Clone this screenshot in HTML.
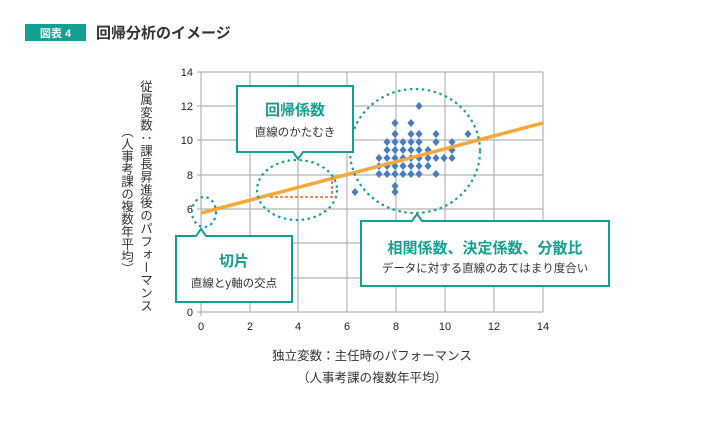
<!DOCTYPE html>
<html><head><meta charset="utf-8"><style>
body{margin:0;background:#fff;}
svg text{font-family:"Liberation Sans","Noto Sans CJK JP",sans-serif;}
</style></head><body>
<svg width="717" height="421" viewBox="0 0 717 421" xmlns="http://www.w3.org/2000/svg" xmlns:xlink="http://www.w3.org/1999/xlink">
<defs><path id="d" d="M0 -4L3.6 0L0 4L-3.6 0Z" fill="#4a7cc0"/></defs>
<rect x="0" y="0" width="717" height="421" fill="#fff"/>
<rect x="25" y="24" width="61" height="17" fill="#14a090"/>
<text x="55.5" y="37" font-size="11" font-weight="bold" fill="#fff" text-anchor="middle">図表 4</text>
<text x="96" y="38" font-size="15" font-weight="bold" fill="#333">回帰分析のイメージ</text>
<g stroke="#b4b4b4" stroke-width="1.2">
<line x1="250" y1="72" x2="250" y2="312"/><line x1="298" y1="72" x2="298" y2="312"/><line x1="347" y1="72" x2="347" y2="312"/><line x1="396" y1="72" x2="396" y2="312"/><line x1="445" y1="72" x2="445" y2="312"/><line x1="494" y1="72" x2="494" y2="312"/><line x1="543" y1="72" x2="543" y2="312"/>
<line x1="201" y1="72" x2="543" y2="72"/><line x1="201" y1="106" x2="543" y2="106"/><line x1="201" y1="140" x2="543" y2="140"/><line x1="201" y1="175" x2="543" y2="175"/><line x1="201" y1="209" x2="543" y2="209"/><line x1="201" y1="243" x2="543" y2="243"/><line x1="201" y1="278" x2="543" y2="278"/><line x1="201" y1="312" x2="543" y2="312"/>
<line x1="201" y1="72" x2="201" y2="316"/>
<line x1="197" y1="72" x2="201" y2="72"/><line x1="197" y1="106" x2="201" y2="106"/><line x1="197" y1="140" x2="201" y2="140"/><line x1="197" y1="175" x2="201" y2="175"/><line x1="197" y1="209" x2="201" y2="209"/><line x1="197" y1="243" x2="201" y2="243"/><line x1="197" y1="278" x2="201" y2="278"/><line x1="197" y1="312" x2="201" y2="312"/>
</g>
<g font-size="11" fill="#222" text-anchor="end">
<text x="193" y="76">14</text><text x="193" y="110">12</text><text x="193" y="144">10</text><text x="193" y="179">8</text><text x="193" y="213">6</text><text x="193" y="247">4</text><text x="193" y="282">2</text><text x="193" y="316">0</text>
</g>
<g font-size="11" fill="#222" text-anchor="middle">
<text x="201" y="330">0</text><text x="250" y="330">2</text><text x="298" y="330">4</text><text x="347" y="330">6</text><text x="396" y="330">8</text><text x="445" y="330">10</text><text x="494" y="330">12</text><text x="543" y="330">14</text>
</g>
<g>
<use xlink:href="#d" x="419" y="106"/>
<use xlink:href="#d" x="395" y="123"/><use xlink:href="#d" x="411" y="123"/>
<use xlink:href="#d" x="395" y="134"/><use xlink:href="#d" x="411" y="134"/><use xlink:href="#d" x="419" y="134"/><use xlink:href="#d" x="436" y="134"/><use xlink:href="#d" x="468" y="134"/>
<use xlink:href="#d" x="387" y="142"/><use xlink:href="#d" x="395" y="142"/><use xlink:href="#d" x="403" y="142"/><use xlink:href="#d" x="411" y="142"/><use xlink:href="#d" x="419" y="142"/><use xlink:href="#d" x="436" y="142"/><use xlink:href="#d" x="452" y="142"/>
<use xlink:href="#d" x="387" y="150"/><use xlink:href="#d" x="395" y="150"/><use xlink:href="#d" x="403" y="150"/><use xlink:href="#d" x="411" y="150"/><use xlink:href="#d" x="419" y="150"/><use xlink:href="#d" x="428" y="150"/><use xlink:href="#d" x="452" y="150"/>
<use xlink:href="#d" x="379" y="158"/><use xlink:href="#d" x="387" y="158"/><use xlink:href="#d" x="395" y="158"/><use xlink:href="#d" x="403" y="158"/><use xlink:href="#d" x="411" y="158"/><use xlink:href="#d" x="419" y="158"/><use xlink:href="#d" x="428" y="158"/><use xlink:href="#d" x="436" y="158"/><use xlink:href="#d" x="444" y="158"/><use xlink:href="#d" x="452" y="158"/>
<use xlink:href="#d" x="379" y="166"/><use xlink:href="#d" x="387" y="166"/><use xlink:href="#d" x="395" y="166"/><use xlink:href="#d" x="403" y="166"/><use xlink:href="#d" x="411" y="166"/><use xlink:href="#d" x="419" y="166"/><use xlink:href="#d" x="428" y="166"/>
<use xlink:href="#d" x="379" y="174"/><use xlink:href="#d" x="387" y="174"/><use xlink:href="#d" x="395" y="174"/><use xlink:href="#d" x="403" y="174"/><use xlink:href="#d" x="411" y="174"/><use xlink:href="#d" x="419" y="174"/><use xlink:href="#d" x="436" y="174"/>
<use xlink:href="#d" x="395" y="186"/><use xlink:href="#d" x="395" y="192"/><use xlink:href="#d" x="355" y="192"/>
</g>
<line x1="201" y1="213" x2="543" y2="123" stroke="#f5a93a" stroke-width="3.5"/>
<path d="M270 197H332V178" fill="none" stroke="#e8682a" stroke-width="1.6" stroke-dasharray="3,2"/>
<g fill="none" stroke="#1aa090" stroke-width="2.2" stroke-dasharray="2.5,3.5">
<ellipse cx="204" cy="212" rx="12" ry="15"/>
<ellipse cx="297" cy="190" rx="40" ry="30"/>
<ellipse cx="415" cy="151" rx="65" ry="62"/>
</g>
<g fill="#fff" stroke="#14a090" stroke-width="2">
<path d="M237 86H353V152H303L298 159L293 152H237Z"/>
<path d="M176 236H196L201 229L206 236H292V302H176Z"/>
<path d="M361 221H412L417 214L422 221H609V286H361Z"/>
</g>
<g text-anchor="middle">
<text x="295" y="115" font-size="15" font-weight="bold" fill="#14a090">回帰係数</text>
<text x="295" y="136" font-size="11.5" fill="#333">直線のかたむき</text>
<text x="234" y="266" font-size="15" font-weight="bold" fill="#14a090">切片</text>
<text x="234" y="287" font-size="11.5" fill="#333">直線とy軸の交点</text>
<text x="485" y="253" font-size="15" font-weight="bold" fill="#14a090">相関係数、決定係数、分散比</text>
<text x="485" y="272" font-size="11.5" fill="#333">データに対する直線のあてはまり度合い</text>
<text x="372" y="360" font-size="12.5" fill="#333">独立変数：主任時のパフォーマンス</text>
<text x="372" y="382" font-size="12.5" fill="#333">（人事考課の複数年平均）</text>
</g>
<text x="145" y="80" font-size="12.5" fill="#333" style="writing-mode:vertical-rl" textLength="232">従属変数：課長昇進後のパフォーマンス</text>
<text x="126" y="125" font-size="12.5" fill="#333" style="writing-mode:vertical-rl">（人事考課の複数年平均）</text>
</svg>
</body></html>
